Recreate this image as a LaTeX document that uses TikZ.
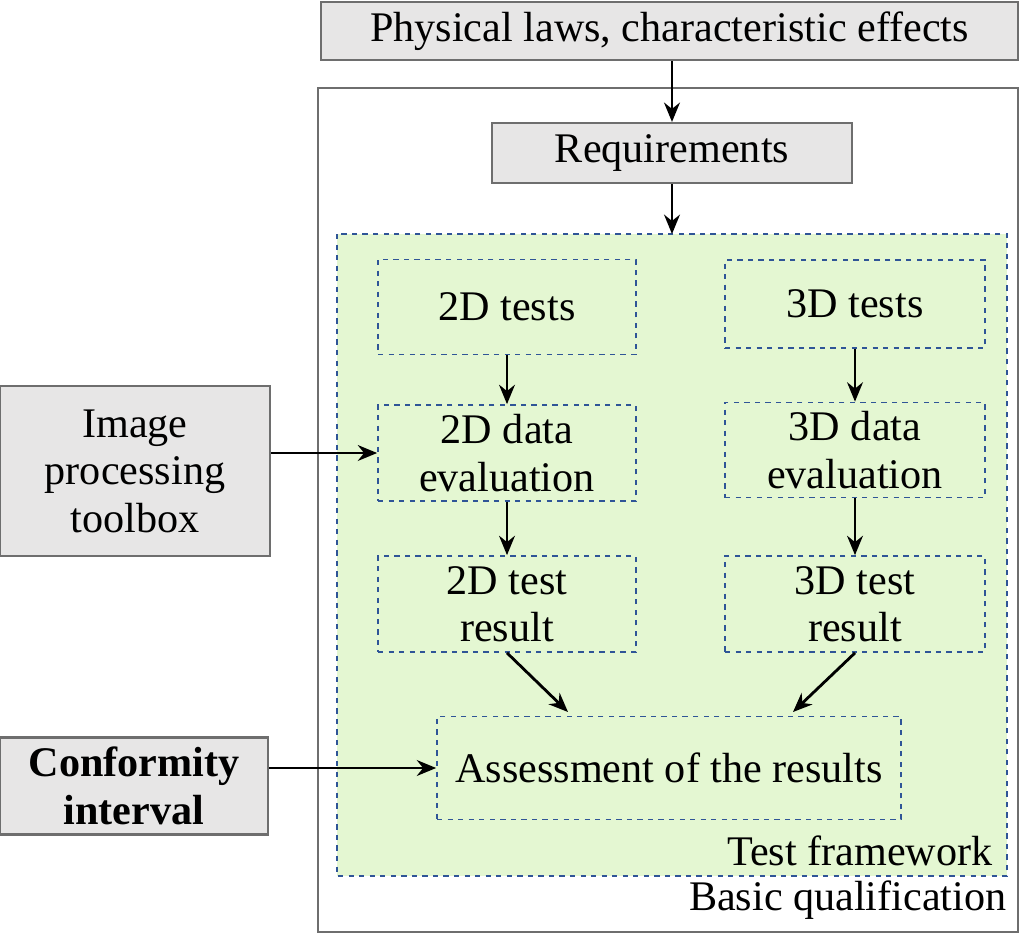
\documentclass[tikz,border=0pt]{standalone}
\usepackage{fontspec}
\setmainfont{Liberation Serif}
\usetikzlibrary{arrows.meta}
\definecolor{boxgray}{RGB}{231,230,230}
\definecolor{edgegray}{RGB}{110,110,110}
\definecolor{dashblue}{RGB}{47,85,151}
\definecolor{lightgreen}{RGB}{228,247,210}
\tikzset{
	gbox/.style={draw=edgegray,fill=boxgray,line width=1.2pt,align=center,inner sep=0pt},
	dbox/.style={draw=dashblue,dashed,line width=1pt,align=center,inner sep=0pt},
	arr/.style={-{Stealth[length=11pt,width=9pt]},line width=1.6pt}
}
\begin{document}
\begin{tikzpicture}[x=0.02cm,y=-0.02cm,font=\fontsize{24}{27}\selectfont]
	\useasboundingbox (0,0) rectangle (1025,934);
	% outer frames
	\draw[edgegray,line width=1.2pt] (318,88) rectangle (1018,932);
	\node[anchor=south east,inner sep=3pt] at (1012,925) {Basic qualification};
	\draw[dashblue,dashed,line width=1pt,fill=lightgreen] (337,234) rectangle (1007,876);
	\node[anchor=south east,inner sep=3pt] (TF) at (998,872) {Test framework};
	\coordinate (F) at (672,234);
	% boxes
	\node[gbox,minimum width=13.94cm,minimum height=1.16cm] (A) at (669.5,31) {Physical laws, characteristic effects};
	\node[gbox,minimum width=7.2cm,minimum height=1.2cm] (B) at (672,153) {Requirements};
	\node[dbox,minimum width=5.16cm,minimum height=1.9cm] (C) at (507,307) {2D tests};
	\node[dbox,minimum width=5.2cm,minimum height=1.76cm] (D) at (855,304) {3D tests};
	\node[dbox,minimum width=5.16cm,minimum height=1.92cm] (E) at (507,453) {2D data\\evaluation};
	\node[dbox,minimum width=5.2cm,minimum height=1.9cm] (G) at (855,450) {3D data\\evaluation};
	\node[dbox,minimum width=5.16cm,minimum height=1.92cm] (H) at (507,604) {2D test\\result};
	\node[dbox,minimum width=5.2cm,minimum height=1.92cm] (I) at (855,604) {3D test\\result};
	\node[dbox,minimum width=9.28cm,minimum height=2.06cm] (J) at (669,768) {Assessment of the results};
	\node[gbox,minimum width=5.4cm,minimum height=3.4cm] (K) at (135,471) {Image\\processing\\toolbox};
	\node[gbox,minimum width=5.36cm,minimum height=1.94cm,font=\fontsize{24}{27}\selectfont\bfseries] (L) at (134,786) {Conformity\\interval};
	% arrows
	\draw[arr] (A.south -| B) -- (B);
	\draw[arr] (B) -- (F);
	\draw[arr] (C) -- (E);
	\draw[arr] (D) -- (G);
	\draw[arr] (E) -- (H);
	\draw[arr] (G) -- (I);
	\draw[arr] (H.south) -- (568,712);
	\draw[arr] (I.south) -- (793,712);
	\draw[arr] (K.east |- E) -- (E.west);
	\draw[arr] (L.east |- J) -- (J.west);
\end{tikzpicture}
\end{document}
